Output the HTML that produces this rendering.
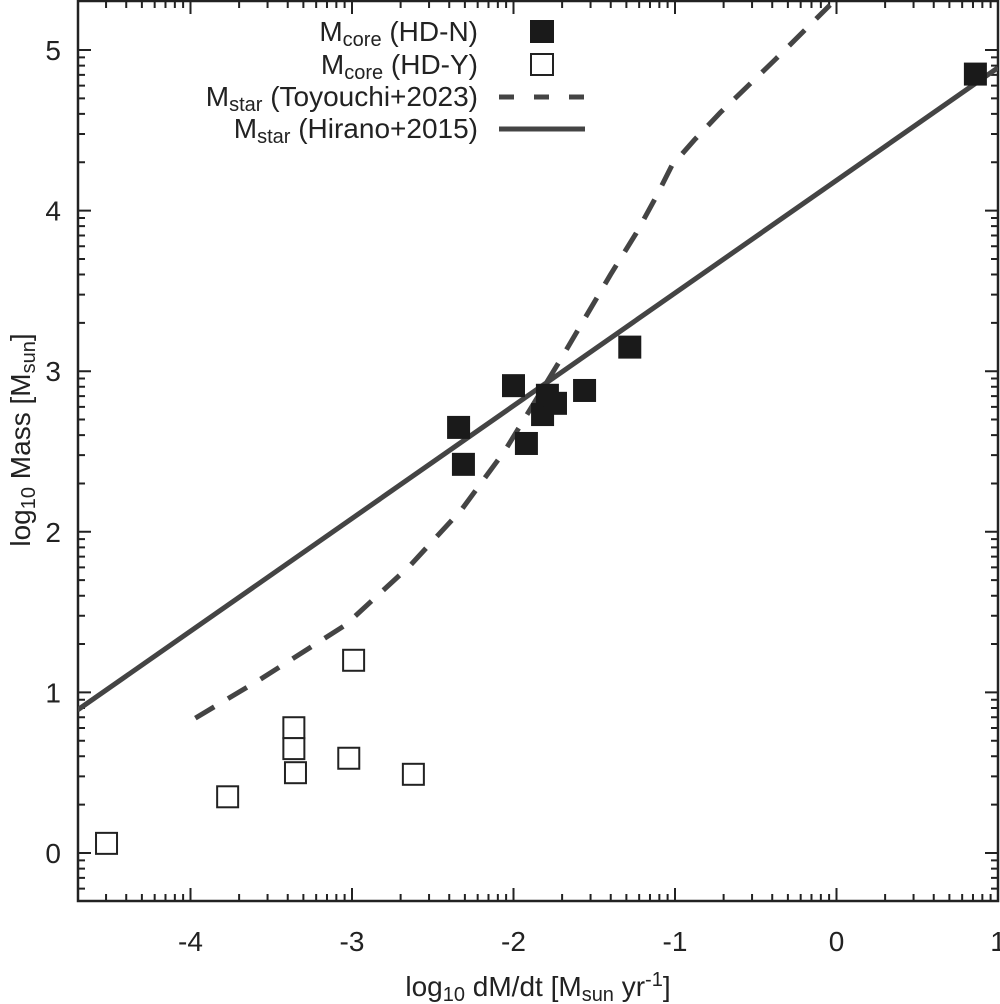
<!DOCTYPE html>
<html><head><meta charset="utf-8"><style>
html,body{margin:0;padding:0;background:#fff}
svg{display:block;font-family:"Liberation Sans",Arial,sans-serif}
</style></head><body>
<svg id="chart" width="1000" height="1004" viewBox="0 0 1000 1004">
<g id="axes"></g><g id="series"></g><g id="legend"></g>
<text x="538" y="996" font-size="28" text-anchor="middle" fill="#222">log<tspan font-size="20" dy="5">10</tspan><tspan dy="-5"> dM/dt [M</tspan><tspan font-size="20" dy="5">sun</tspan><tspan dy="-5"> yr</tspan><tspan font-size="20" dy="-10">-1</tspan><tspan dy="10">]</tspan></text>
<text transform="translate(30,440) rotate(-90)" font-size="28" text-anchor="middle" fill="#222">log<tspan font-size="20" dy="5">10</tspan><tspan dy="-5"> Mass [M</tspan><tspan font-size="20" dy="5">sun</tspan><tspan dy="-5">]</tspan></text>
</svg>
<script>
const xTicks=[-4,-3,-2,-1,0,1];
const yTicks=[0,1,2,3,4,5];
const hdnX=[-2.34,-2.31,-2.0,-1.92,-1.82,-1.79,-1.74,-1.56,-1.28,0.86];
const hdnY=[2.65,2.42,2.91,2.55,2.73,2.85,2.80,2.88,3.15,4.85];
const hdyX=[-4.52,-3.77,-3.36,-3.36,-3.35,-2.99,-3.02,-2.62];
const hdyY=[0.06,0.35,0.78,0.65,0.50,1.20,0.59,0.49];
const toyX=[-3.97,-3.57,-3.04,-2.64,-2.32,-2.05,-1.71,-1.40,-1.24,-1.12,-1.02,-0.88,-0.72,-0.38,-0.04];
const toyY=[0.84,1.08,1.42,1.79,2.14,2.51,3.07,3.60,3.86,4.08,4.28,4.44,4.61,4.94,5.28];
const hirX=[-4.70,1.0];
const hirY=[0.89,4.89];
const NS='http://www.w3.org/2000/svg';
const L=78,R=998,T=1,B=901;
const X=v=>352+(v+3)*161.5;
const Y=v=>853-v*160.6;
function mk(tag,attrs,parent){const e=document.createElementNS(NS,tag);for(const k in attrs)e.setAttribute(k,attrs[k]);parent.appendChild(e);return e;}
const ax=document.getElementById('axes'),se=document.getElementById('series'),lg=document.getElementById('legend');
const frame=mk('rect',{x:L,y:T,width:R-L,height:B-T,fill:'none',stroke:'#222','stroke-width':2.5},ax);


function tick(d){const p=mk('path',{d:d,stroke:'#222','stroke-width':2,fill:'none'},ax);

}
for(let n=-5;n<=1;n++){
 if(n>=-4){const x=X(n);tick(`M${x},${B}v-13M${x},${T}v13`);
  if(xTicks.includes(n)){const t=mk('text',{x:x,y:951,'font-size':28,'text-anchor':'middle',fill:'#222'},ax);t.textContent=n;
  
  }}
 for(let k=2;k<=9;k++){const v=n+Math.log10(k);const x=X(v);if(x>L+2&&x<R-2)tick(`M${x},${B}v-7M${x},${T}v7`);}
}
for(let n=-1;n<=5;n++){
 if(n>=0){const y=Y(n);tick(`M${L},${y}h13M${R},${y}h-13`);
  if(yTicks.includes(n)){const t=mk('text',{x:61,y:y+10,'font-size':28,'text-anchor':'end',fill:'#222'},ax);t.textContent=n;
  
  }}
 for(let k=2;k<=9;k++){const v=n+Math.log10(k);const y=Y(v);if(y>T+2&&y<B-2)tick(`M${L},${y}h7M${R},${y}h-7`);}
}
const cp=mk('clipPath',{id:'clip'},se);mk('rect',{x:L,y:T,width:R-L,height:B-T},cp);
const hir=mk('polyline',{points:hirX.map((v,i)=>X(v)+','+Y(hirY[i])).join(' '),fill:'none',stroke:'#444','stroke-width':5,'clip-path':'url(#clip)'},se);


const toy=mk('polyline',{points:toyX.map((v,i)=>X(v)+','+Y(toyY[i])).join(' '),fill:'none',stroke:'#444','stroke-width':5,'stroke-dasharray':'22,16','clip-path':'url(#clip)'},se);


hdyX.forEach((v,i)=>{const r=mk('rect',{x:X(v)-10.5,y:Y(hdyY[i])-10.5,width:21,height:21,fill:'#fff',stroke:'#222','stroke-width':2},se);

});
hdnX.forEach((v,i)=>{const r=mk('rect',{x:X(v)-11.5,y:Y(hdnY[i])-11.5,width:23,height:23,fill:'#1a1a1a'},se);

});
const rows=[['core',' (HD-N)',41],['core',' (HD-Y)',74],['star',' (Toyouchi+2023)',106],['star',' (Hirano+2015)',138]];
rows.forEach((r,i)=>{const t=mk('text',{x:478,y:r[2],'font-size':28,'text-anchor':'end',fill:'#222'},lg);
t.innerHTML=`M<tspan font-size="20" dy="5">${r[0]}</tspan><tspan dy="-5">${r[1]}</tspan>`;

});
const l1=mk('rect',{x:530,y:20,width:24,height:23,fill:'#1a1a1a'},lg);


const l2=mk('rect',{x:531,y:54,width:22,height:21,fill:'#fff',stroke:'#222','stroke-width':2},lg);


const l3=mk('path',{d:'M499,97H585',stroke:'#444','stroke-width':5,'stroke-dasharray':'15,20'},lg);


const l4=mk('path',{d:'M499,129H585',stroke:'#444','stroke-width':5},lg);


</script>
</body></html>
